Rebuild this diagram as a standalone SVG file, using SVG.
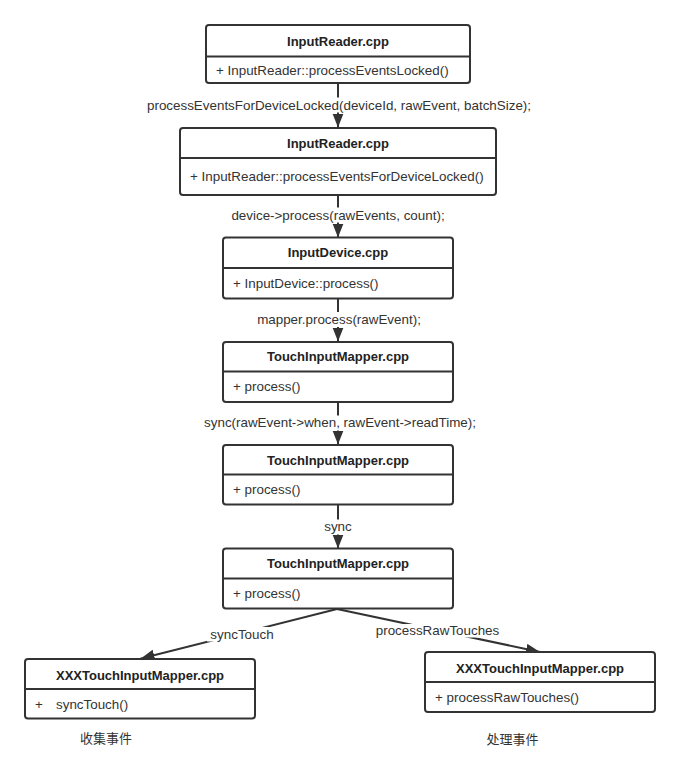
<svg xmlns="http://www.w3.org/2000/svg" width="680" height="784" viewBox="0 0 680 784">
<style>
.box{fill:#fff;stroke:#333;stroke-width:2}
.div{stroke:#333;stroke-width:2}
.t{font-family:"Liberation Sans",Arial,sans-serif;font-size:13.4px;fill:#333}
.title{font-size:13px;font-weight:bold;text-anchor:middle;fill:#222}
.lbl{text-anchor:middle}
.cn{font-family:"Liberation Sans","Noto Sans CJK SC",sans-serif;font-size:13px;fill:#333;text-anchor:middle}
.ln{stroke:#333;stroke-width:2;fill:none}
.bg{fill:#fff}
</style>
<defs>
<marker id="arr" markerUnits="userSpaceOnUse" markerWidth="16" markerHeight="12" refX="14" refY="5.5" orient="auto">
<path d="M0,0 L14,5.5 L0,11 z" fill="#333"/>
</marker>
</defs>
<rect width="680" height="784" fill="#fff"/>

<g id="connectors">
<path class="ln" d="M338,83 L338,120"/>
<path class="ln" d="M338,195 L338,230"/>
<path class="ln" d="M338,298 L338,335"/>
<path class="ln" d="M338,402 L338,438"/>
<path class="ln" d="M338,504 L338,541"/>
<path class="ln" d="M337,609 L147,657"/>
<path class="ln" d="M337,609 L533,650.5"/>
<rect class="bg" x="146" y="97.5" width="388" height="15"/>
<text class="t lbl" x="339" y="109.5">processEventsForDeviceLocked(deviceId, rawEvent, batchSize);</text>
<rect class="bg" x="226" y="207.5" width="224" height="15"/>
<text class="t lbl" x="338" y="219.5">device-&gt;process(rawEvents, count);</text>
<rect class="bg" x="255" y="312" width="170" height="15"/>
<text class="t lbl" x="339" y="323.8">mapper.process(rawEvent);</text>
<rect class="bg" x="198" y="415.5" width="286" height="15"/>
<text class="t lbl" x="340" y="427">sync(rawEvent-&gt;when, rawEvent-&gt;readTime);</text>
<rect class="bg" x="321" y="519.5" width="34" height="15"/>
<text class="t lbl" x="338" y="531">sync</text>
<rect class="bg" x="207" y="627" width="67" height="14.5"/>
<text class="t lbl" x="242" y="638.8">syncTouch</text>
<rect class="bg" x="373" y="624" width="129" height="13.5"/>
<text class="t lbl" x="437.5" y="635">processRawTouches</text>
<path class="ln" d="M338,124 L338,127.5" marker-end="url(#arr)"/>
<path class="ln" d="M338,234 L338,237.5" marker-end="url(#arr)"/>
<path class="ln" d="M338,338 L338,341.5" marker-end="url(#arr)"/>
<path class="ln" d="M338,441 L338,444.5" marker-end="url(#arr)"/>
<path class="ln" d="M338,545 L338,548.5" marker-end="url(#arr)"/>
<path class="ln" d="M145,657.5 L140.5,658.7" marker-end="url(#arr)"/>
<path class="ln" d="M535,651 L540,652" marker-end="url(#arr)"/>
</g>

<g id="node-inputreader-1">
<rect class="box" x="206" y="25" width="264" height="58" rx="3"/>
<line class="div" x1="206" y1="56.5" x2="470" y2="56.5"/>
<text class="t title" x="338" y="45.5">InputReader.cpp</text>
<text class="t" x="216" y="74.5">+ InputReader::processEventsLocked()</text>
</g>

<g id="node-inputreader-2">
<rect class="box" x="180" y="128" width="316" height="67" rx="3"/>
<line class="div" x1="180" y1="158" x2="496" y2="158"/>
<text class="t title" x="338" y="147.5">InputReader.cpp</text>
<text class="t" x="190" y="181">+ InputReader::processEventsForDeviceLocked()</text>
</g>

<g id="node-inputdevice">
<rect class="box" x="223" y="237.5" width="230" height="61" rx="3"/>
<line class="div" x1="223" y1="268" x2="453" y2="268"/>
<text class="t title" x="338" y="257">InputDevice.cpp</text>
<text class="t" x="233" y="287.5">+ InputDevice::process()</text>
</g>

<g id="node-touchinputmapper-1">
<rect class="box" x="223" y="342" width="230" height="60" rx="3"/>
<line class="div" x1="223" y1="371.5" x2="453" y2="371.5"/>
<text class="t title" x="338" y="361">TouchInputMapper.cpp</text>
<text class="t" x="233" y="391">+ process()</text>
</g>

<g id="node-touchinputmapper-2">
<rect class="box" x="223" y="445" width="230" height="59.5" rx="3"/>
<line class="div" x1="223" y1="474.5" x2="453" y2="474.5"/>
<text class="t title" x="338" y="464.5">TouchInputMapper.cpp</text>
<text class="t" x="233" y="494">+ process()</text>
</g>

<g id="node-touchinputmapper-3">
<rect class="box" x="223" y="548.5" width="230" height="60" rx="3"/>
<line class="div" x1="223" y1="578.5" x2="453" y2="578.5"/>
<text class="t title" x="338" y="568">TouchInputMapper.cpp</text>
<text class="t" x="233" y="598">+ process()</text>
</g>

<g id="node-xxx-synctouch">
<rect class="box" x="25" y="659" width="230" height="59.5" rx="3"/>
<line class="div" x1="25" y1="689" x2="255" y2="689"/>
<text class="t title" x="140" y="679.5">XXXTouchInputMapper.cpp</text>
<text class="t" x="35" y="708.5">+<tspan x="56">syncTouch()</tspan></text>
</g>

<g id="node-xxx-processrawtouches">
<rect class="box" x="425" y="652" width="230" height="60" rx="3"/>
<line class="div" x1="425" y1="682" x2="655" y2="682"/>
<text class="t title" x="540" y="672.5">XXXTouchInputMapper.cpp</text>
<text class="t" x="435" y="701.5">+ processRawTouches()</text>
</g>

<g id="captions">
<text class="cn" x="106" y="742.5">收集事件</text>
<text class="cn" x="512.5" y="744">处理事件</text>
</g>
</svg>
